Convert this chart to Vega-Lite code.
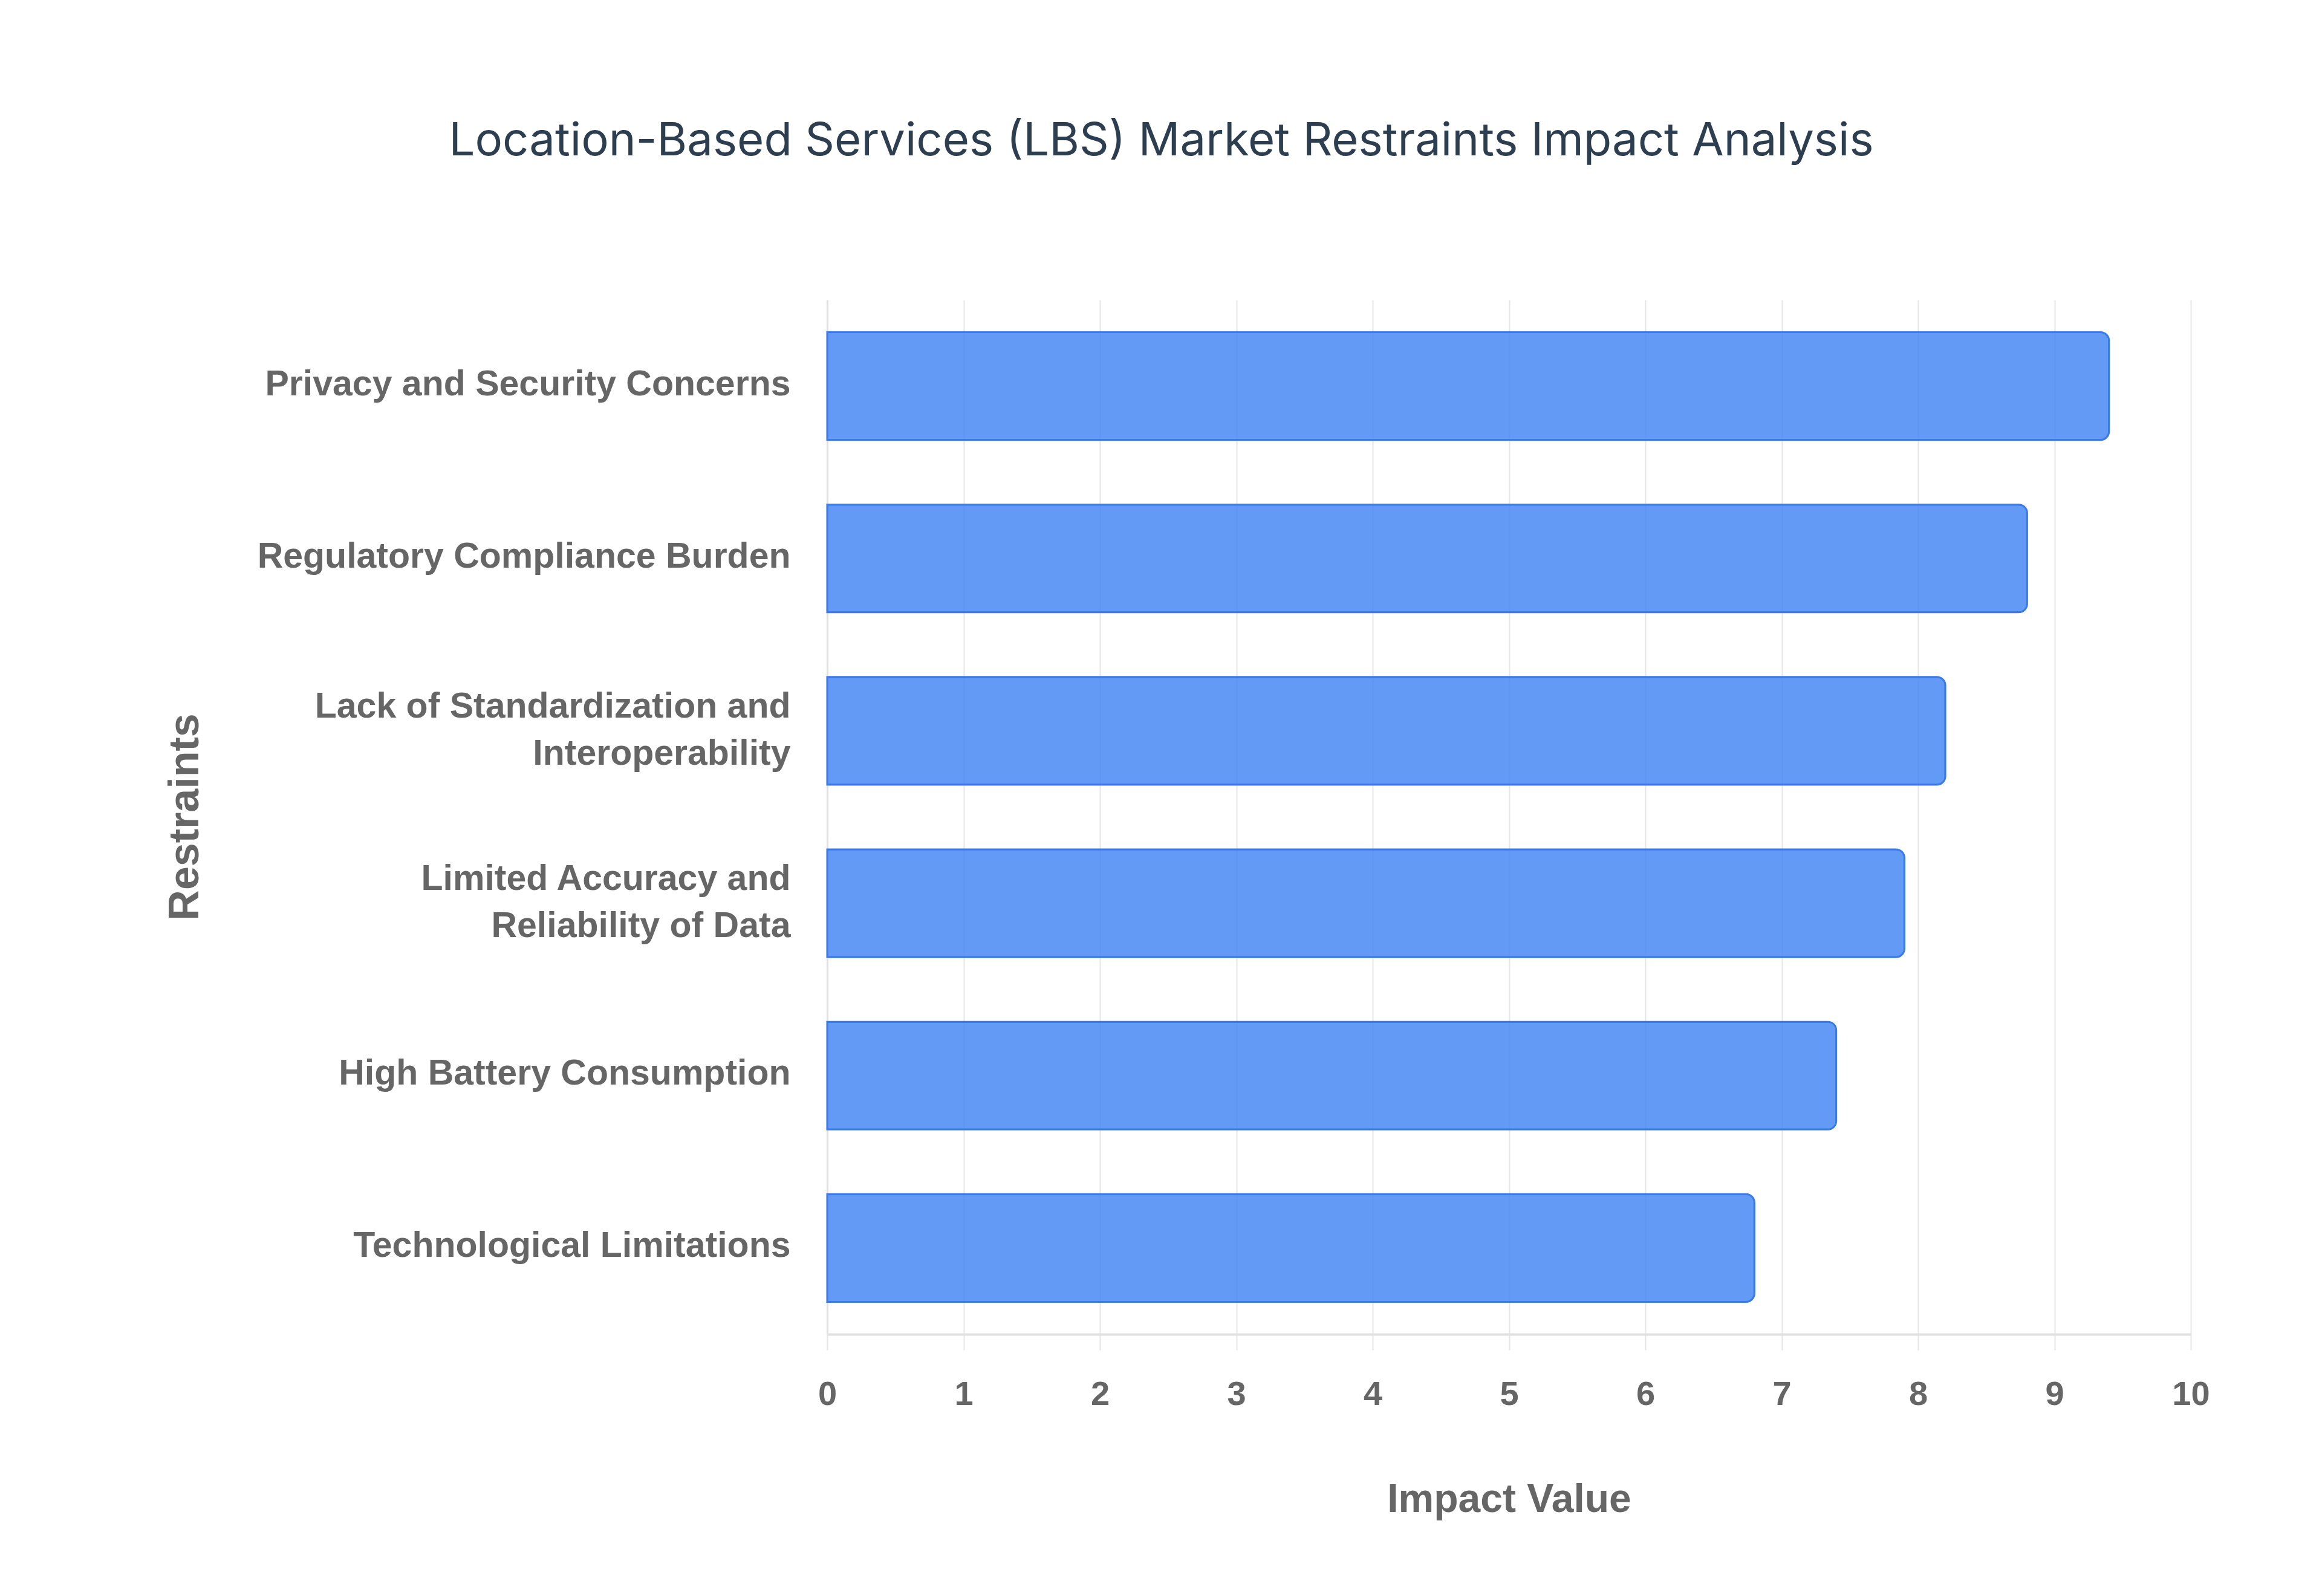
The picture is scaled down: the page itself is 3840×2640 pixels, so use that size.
{
  "$schema": "https://vega.github.io/schema/vega-lite/v6.json",
  "autosize": {"type": "none"},
  "width": 2255,
  "height": 1711,
  "padding": {"left": 1368, "top": 496, "right": 217, "bottom": 433},
  "background": "#ffffff",
  "title": {
    "text": "Location-Based Services (LBS) Market Restraints Impact Analysis",
    "anchor": "middle",
    "frame": "group",
    "dx": -575,
    "offset": 223,
    "font": "Inter",
    "fontSize": 76,
    "fontWeight": 400,
    "color": "#2c3e50"
  },
  "data": {
    "values": [
      {"Restraint": "Privacy and Security Concerns", "Impact": 9.4},
      {"Restraint": "Regulatory Compliance Burden", "Impact": 8.8},
      {"Restraint": "Lack of Standardization and Interoperability", "Impact": 8.2},
      {"Restraint": "Limited Accuracy and Reliability of Data", "Impact": 7.9},
      {"Restraint": "High Battery Consumption", "Impact": 7.4},
      {"Restraint": "Technological Limitations", "Impact": 6.8}
    ]
  },
  "mark": {
    "type": "bar",
    "color": "#4285F4",
    "fillOpacity": 0.83,
    "stroke": "#3a7ae8",
    "strokeWidth": 3,
    "cornerRadiusEnd": 14
  },
  "encoding": {
    "y": {
      "field": "Restraint",
      "type": "nominal",
      "sort": "-x",
      "scale": {"paddingInner": 0.375, "paddingOuter": 0.1875},
      "axis": {
        "title": "Restraints",
        "titleFont": "Liberation Sans",
        "titleFontSize": 70,
        "titleFontWeight": "bold",
        "titleColor": "#666666",
        "titleX": -1041,
        "titleY": 855,
        "titleBaseline": "alphabetic",
        "titleAlign": "center",
        "titleAngle": -90,
        "labelFont": "Liberation Sans",
        "labelFontSize": 59,
        "labelFontWeight": "bold",
        "labelColor": "#666666",
        "labelLineHeight": 78,
        "labelPadding": 61,
        "labelLimit": 2000,
        "labelOffset": {
          "condition": {"test": "indexof(datum.value, 'Lack of') == 0 || indexof(datum.value, 'Limited Accuracy') == 0", "value": -40},
          "value": -3
        },
        "ticks": false,
        "domain": true,
        "domainColor": "#e0e0e0",
        "domainWidth": 3,
        "grid": false,
        "labelExpr": "datum.label == 'Lack of Standardization and Interoperability' ? ['Lack of Standardization and', 'Interoperability'] : datum.label == 'Limited Accuracy and Reliability of Data' ? ['Limited Accuracy and', 'Reliability of Data'] : datum.label"
      }
    },
    "x": {
      "field": "Impact",
      "type": "quantitative",
      "scale": {"domain": [0, 10], "nice": false},
      "axis": {
        "title": "Impact Value",
        "titleFont": "Liberation Sans",
        "titleFontSize": 66,
        "titleFontWeight": "bold",
        "titleColor": "#666666",
        "titlePadding": 114,
        "labelFont": "Liberation Sans",
        "labelFontSize": 56,
        "labelFontWeight": "bold",
        "labelColor": "#666666",
        "labelPadding": 46,
        "labelFlush": false,
        "values": [0, 1, 2, 3, 4, 5, 6, 7, 8, 9, 10],
        "format": "d",
        "ticks": true,
        "tickSize": 26,
        "tickColor": "#e5e5e5",
        "tickWidth": 2,
        "domain": true,
        "domainColor": "#e0e0e0",
        "domainWidth": 4,
        "grid": true,
        "gridColor": "#e6e6e6",
        "gridWidth": 2
      }
    }
  },
  "config": {"view": {"stroke": null}}
}
